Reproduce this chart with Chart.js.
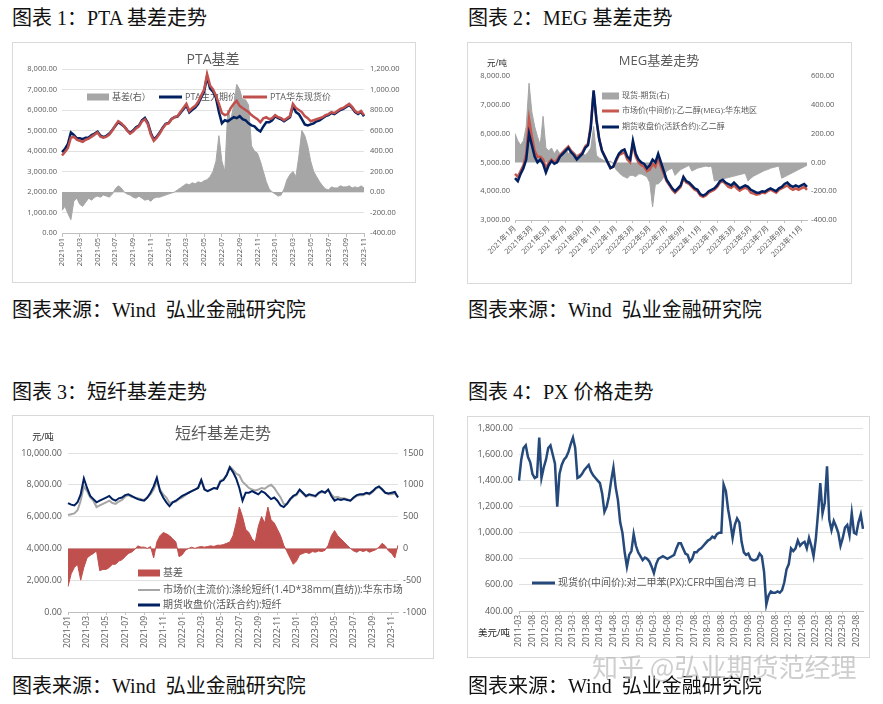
<!DOCTYPE html>
<html>
<head>
<meta charset="utf-8">
<script src="https://cdn.jsdelivr.net/npm/chart.js@4.4.1/dist/chart.umd.min.js"></script>
<style>
  html, body { margin: 0; padding: 0; background: #fff; }
  body { width: 883px; height: 704px; position: relative; overflow: hidden;
         font-family: "Liberation Serif", "Noto Sans CJK SC", serif; }
  .head { position: absolute; font-size: 20px; line-height: 22px; color: #111; white-space: nowrap; }
  .box { position: absolute; border: 1px solid #d9d9d9; box-sizing: border-box; background: #fff; }
  .box canvas { position: absolute; left: 0; top: 0; }
  .mark { position: absolute; font-family: "Noto Sans CJK SC", sans-serif; font-size: 26px; line-height: 30px;
          color: rgba(185, 185, 185, 0.7); white-space: nowrap; }
</style>
</head>
<body>
<div class="head" style="left:12px;top:7px">图表 1：PTA 基差走势</div>
<div class="head" style="left:468px;top:7px">图表 2：MEG 基差走势</div>
<div class="box" style="left:12px;top:42px;width:404px;height:241px"><canvas id="c1" width="402" height="239"></canvas></div>
<div class="box" style="left:467px;top:42px;width:385px;height:242px"><canvas id="c2" width="383" height="240"></canvas></div>
<div class="head" style="left:12px;top:299px">图表来源：Wind&nbsp; 弘业金融研究院</div>
<div class="head" style="left:468px;top:299px">图表来源：Wind&nbsp; 弘业金融研究院</div>

<div class="head" style="left:12px;top:381px">图表 3：短纤基差走势</div>
<div class="head" style="left:468px;top:381px">图表 4：PX 价格走势</div>
<div class="box" style="left:12px;top:415px;width:422px;height:244px"><canvas id="c3" width="420" height="242"></canvas></div>
<div class="box" style="left:467px;top:416px;width:403px;height:242px"><canvas id="c4" width="401" height="240"></canvas></div>
<div class="head" style="left:12px;top:675px">图表来源：Wind&nbsp; 弘业金融研究院</div>
<div class="head" style="left:468px;top:675px">图表来源：Wind&nbsp; 弘业金融研究院</div>
<div class="mark" style="left:592px;top:651px">知乎 @弘业期货范经理</div>

<script>
// ---- categories / ticks ----
const months = ['2021-01','2021-02','2021-03','2021-04','2021-05','2021-06','2021-07','2021-08','2021-09','2021-10','2021-11','2021-12',
  '2022-01','2022-02','2022-03','2022-04','2022-05','2022-06','2022-07','2022-08','2022-09','2022-10','2022-11','2022-12',
  '2023-01','2023-02','2023-03','2023-04','2023-05','2023-06','2023-07','2023-08','2023-09','2023-10','2023-11'];
const oddMonthTicks = ['2021-01','2021-03','2021-05','2021-07','2021-09','2021-11','2022-01','2022-03','2022-05',
  '2022-07','2022-09','2022-11','2023-01','2023-03','2023-05','2023-07','2023-09','2023-11'];
const megTickNames = ['2021年1月','2021年3月','2021年5月','2021年7月','2021年9月','2021年11月','2022年1月','2022年3月','2022年5月',
  '2022年7月','2022年9月','2022年11月','2023年1月','2023年3月','2023年5月','2023年7月','2023年9月','2023年11月'];
const pxTicks = ['2011-03','2011-08','2012-03','2012-08','2013-03','2013-08','2014-03','2014-08','2015-03','2015-08',
  '2016-03','2016-08','2017-03','2017-08','2018-03','2018-08','2019-03','2019-08','2020-03','2020-08',
  '2021-03','2021-08','2022-03','2022-08','2023-03','2023-08'];
const perMonth = 3;   // points per month in charts 1-3
const perPxTick = 6;  // points between PX tick labels

// ---- chart 1: PTA ----
const ptaSpot = [3780,3950,4150, 4650,4700,4550, 4500,4450,4550, 4600,4700,4800, 4900,4700,4650, 4700,4800,5000,
  5250,5450,5350, 5200,5000,4850, 4950,5100,5200, 5450,5550,5300, 4800,4500,4650, 4850,5100,5300,
  5350,5550,5650, 5700,5900,6100, 6300,5950,6100, 6200,6400,6700, 7000,7750,7200, 7000,6700,6300,
  5850,5750,5800, 6100,6300,6450, 6200,6100,6000, 5900,5750,5650, 5550,5400,5600, 5650,5550,5600,
  5750,5650,5600, 5500,5600,5700, 6300,6100,6000, 5900,5700,5600, 5450,5500,5550, 5600,5650,5750,
  5800,5900,5850, 5950,6050,6100, 6200,6300,6150, 5950,5850,5950, 5750];
const ptaFutures = [3950,4100,4350, 4900,4780,4620, 4620,4580,4650, 4660,4780,4850, 4940,4750,4680, 4740,4850,5020,
  5220,5400,5310, 5200,5020,4880, 5000,5160,5240, 5500,5620,5370, 4880,4560,4700, 4900,5140,5330,
  5370,5560,5650, 5680,5860,6040, 6220,5880,6010, 6120,6300,6610, 6890,7620,7050, 6900,6600,5900,
  5350,5500,5450, 5550,5650,5600, 5700,5550,5500, 5350,5250,5200, 5050,4950,5200, 5400,5400,5500,
  5700,5600,5550, 5450,5550,5650, 6200,5900,5800, 5550,5300,5250, 5300,5350,5450, 5500,5600,5700,
  5750,5850,5800, 5900,6000,6050, 6150,6250,6100, 5900,5800,5900, 5700];
const ptaBasis = [-180,-140,-210, -270,-90,-60, -120,-140,-100, -60,-80,-50, -40,-50,-30, -40,-50,-20,
  30,60,40, 0,-20,-30, -50,-60,-40, -60,-80,-70, -90,-60,-50, -50,-40,-30,
  -20,-10,0, 20,40,60, 80,70,90, 80,100,90, 110,120,150, 200,300,550,
  300,200,800, 700,850,1050, 1000,900,900, 850,450,400, 380,300,200, 100,30,0,
  -20,-40,-30, 30,120,170, 200,150,350, 600,550,450, 300,200,150, 100,60,30,
  20,50,40, 40,60,50, 50,60,40, 50,40,60, 40];

// ---- chart 2: MEG ----
const megSpot = [4600,4500,4700, 4900,5300,6500, 5900,5400,5200, 5200,5100,4800, 5000,5100,5000, 5100,5250,5350,
  5450,5550,5400, 5300,5150,5250, 5350,5550,5650, 6300,7450,6450, 5800,5400,5200, 5000,4800,4850,
  5050,5250,5300, 5350,5100,5000, 5650,5200,5000, 4900,4850,4700, 4750,4950,4850, 5150,4850,4600,
  4350,4200,4050, 3950,4050,4150, 4450,4300,4250, 4150,4050,4000, 3850,3800,3850, 3950,4000,4050,
  4150,4300,4350, 4250,4150,4120, 4200,4100,4020, 4080,4120,4080, 3950,3920,3880, 3900,3950,3930,
  4000,4050,4000, 3950,4050,4100, 4150,4200,4100, 4050,4100,4050, 4100,4150,4050];
const megFutures = [4450,4350,4600, 4800,5100,6000, 5600,5200,5000, 5100,4950,4650, 4900,5050,4950, 5000,5200,5300,
  5400,5500,5350, 5250,5100,5200, 5300,5500,5600, 6200,7500,6500, 5800,5400,5200, 5000,4800,4850,
  5100,5300,5400, 5450,5200,5100, 5750,5300,5100, 5000,4950,4800, 4900,5100,5000, 5300,5000,4700,
  4400,4250,4100, 4000,4100,4200, 4500,4350,4300, 4200,4100,4050, 3900,3850,3900, 4000,4050,4100,
  4200,4350,4400, 4300,4250,4200, 4300,4200,4100, 4150,4200,4150, 4050,4000,3950, 3950,4000,3980,
  4050,4100,4050, 4000,4100,4150, 4250,4300,4200, 4150,4200,4150, 4200,4250,4150];
const megBasis = [200,150,120, 150,250,550, 350,250,180, 120,320,100, 80,100,60, 90,60,80,
  100,60,80, 70,50,60, 60,50,70, 100,250,50, 30,20,10, 0,10,-10,
  -50,-70,-90, -100,-110,-90, -90,-100,-80, -80,-90,-100, -140,-310,-150, -150,-130,-100,
  -60,-50,-40, -90,-70,-50, -40,-30,-20, -60,-50,-40, -35,-30,-25, -30,-25,-130,
  -125,-120,-115, -110,-105,-100, -95,-90,-85, -80,-75,-130, -110,-95,-85, -75,-65,-55,
  -50,-40,-35, -30,-25,-110, -100,-90,-80, -70,-60,-50, -40,-30,-20];

// ---- chart 3: 短纤 ----
const sfSpot = [6100,6150,6200, 6400,7000,7900, 7600,7200,7000, 6600,6700,6800, 6900,7000,6850, 6800,6950,7050,
  7250,7350,7250, 7200,7150,7100, 7050,7200,7400, 7700,8200,7700, 7400,7200,6850, 6900,6950,7100,
  7200,7350,7500, 7600,7700,7800, 8300,7750,7600, 7700,7800,7800, 8250,8350,8650, 9150,8950,8700,
  8600,8200,8000, 7800,7700,7650, 7700,7800,7750, 7900,8000,7800, 7500,7200,6800, 6800,7050,7250,
  7350,7650,7450, 7250,7350,7300, 7250,7450,7550, 7500,7700,7400, 7200,7250,7150, 7150,7100,7000,
  7150,7300,7350, 7350,7450,7400, 7550,7750,7850, 7750,7500,7400, 7400,7450,7250];
const sfFutures = [6850,6750,6700, 6900,7400,8400, 7800,7300,7100, 6900,7000,7100, 7200,7300,7100, 7000,7150,7200,
  7350,7400,7300, 7200,7100,7050, 7000,7200,7500, 7900,8450,7600, 7200,6900,6650, 6900,7000,7150,
  7300,7400,7500, 7600,7700,7800, 8300,7700,7600, 7700,7800,7750, 8200,8300,8600, 9100,8800,8400,
  7800,7000,7500, 7500,7600,7500, 7400,7600,7500, 7300,7100,7200, 7000,6700,6600, 6800,7100,7300,
  7400,7700,7500, 7300,7400,7350, 7300,7500,7600, 7500,7700,7300, 7000,7100,7050, 7100,7050,7000,
  7200,7350,7400, 7400,7500,7450, 7600,7800,7900, 7700,7500,7450, 7500,7550,7200];
const sfBasis = [-600,-400,-300, -250,-500,-300, -150,-110,-80, -40,-350,-330, -330,-300,-250, -250,-200,-180,
  -130,-80,-60, -20,40,20, 20,0,30, -150,100,200, 250,230,200, 150,100,-130,
  -100,-30,0, 20,0,20, 30,20,30, 40,30,50, 50,60,80, 100,200,400,
  650,500,300, 250,150,100, 350,500,400, 650,450,400, 300,200,50, -50,-150,-250,
  -200,-100,-80, -60,-80,-50, -60,-40,-50, -30,50,200, 280,200,150, 100,50,0,
  -40,-60,-30, -50,-30,-60, -40,-20,20, 80,40,-40, -80,-150,50];

// ---- chart 4: PX ----
const pxPrice = [1400,1560,1650,1670,1580,1540, 1450,1420,1430,1730,1420,1500, 1560,1650,1670,1600,1530,1200,
  1450,1520,1560,1580,1620,1680, 1730,1650,1420,1430,1450,1480, 1500,1520,1470,1440,1420,1400,
  1380,1300,1160,1200,1280,1400, 1500,1350,1250,1080,1000,850, 740,830,860,990,900,850,
  820,790,810,800,780,740, 690,760,800,810,820,810, 800,810,820,830,880,920,
  920,880,840,830,780,800, 850,850,870,880,900,920, 940,950,970,960,990,1000,
  1000,1370,1320,1180,1080,960, 1060,1110,1080,930,850,830, 840,800,790,790,800,840,
  820,700,450,520,550,540, 540,550,540,560,620,720, 760,880,860,880,940,900,
  920,930,880,960,900,820, 950,1150,1380,1150,1230,1510, 1100,1020,1090,1050,1000,900,
  960,1040,1060,980,1150,1000, 990,1080,1140,1030];

// ---- helpers ----
Chart.defaults.font.family = '"Open Sans", "Noto Sans CJK SC", sans-serif';
Chart.defaults.animation = false;
const TXT = '#595959';
const RED = '#c0504d', NAVY = '#002060', GREY = '#a6a6a6';

const fmt2 = v => v.toLocaleString('en-US', { minimumFractionDigits: 2, maximumFractionDigits: 2 });

function pointLabels(names, per, count) {
  const out = [];
  for (let i = 0; i < count; i++) out.push(i % per === 0 ? names[i / per] : '');
  return out;
}

function yAxis(pos, min, max, step, fmt, size, width, pad, grid) {
  return {
    position: pos, min: min, max: max,
    ticks: { stepSize: step, callback: fmt, padding: pad, color: TXT, font: { size: size } },
    grid: grid ? { color: '#d9d9d9', lineWidth: 0.8, drawTicks: false } : { display: false, drawTicks: false },
    border: { display: false },
    afterFit: s => { s.width = width; }
  };
}

function xAxis(tickList, names, rot, size, height, tickLen) {
  return {
    ticks: {
      autoSkip: false, minRotation: rot, maxRotation: rot, padding: 1, color: TXT, font: { size: size },
      callback: function(v) {
        const k = tickList.indexOf(this.getLabelForValue(v));
        return k < 0 ? null : names[k];
      }
    },
    grid: { drawOnChartArea: false, tickLength: tickLen, color: '#bfbfbf' },
    border: { color: '#bfbfbf' },
    afterFit: s => { s.height = height; }
  };
}

function lineDs(label, data, color, width, axis, order) {
  return { label: label, data: data, yAxisID: axis, borderColor: color, borderWidth: width,
           pointRadius: 0, tension: 0, fill: false, order: order };
}
function areaDs(label, data, color, axis, order) {
  return { label: label, data: data, yAxisID: axis, borderColor: color, borderWidth: 1, backgroundColor: color,
           pointRadius: 0, tension: 0, fill: 'origin', order: order };
}

// titles, unit labels and in-plot legends
function decor(cfg) {
  return {
    id: 'decor',
    beforeDatasetsDraw(chart) {
      const ctx = chart.ctx;
      (cfg.legend || []).forEach(it => {
        ctx.save();
        if (it.kind === 'box') {
          ctx.fillStyle = it.color;
          ctx.fillRect(it.x, it.y - it.h / 2, it.w, it.h);
        } else {
          ctx.strokeStyle = it.color;
          ctx.lineWidth = it.h;
          ctx.beginPath();
          ctx.moveTo(it.x, it.y);
          ctx.lineTo(it.x + it.w, it.y);
          ctx.stroke();
        }
        ctx.fillStyle = TXT;
        ctx.font = cfg.legendFont;
        ctx.textAlign = 'left';
        ctx.textBaseline = 'middle';
        ctx.fillText(it.text, it.x + it.w + 3, it.y);
        ctx.restore();
      });
    },
    afterDraw(chart) {
      const ctx = chart.ctx;
      (cfg.texts || []).forEach(t => {
        ctx.save();
        ctx.fillStyle = t.color || TXT;
        ctx.font = t.font;
        ctx.textAlign = 'center';
        ctx.textBaseline = 'middle';
        ctx.fillText(t.text, t.x, t.y);
        ctx.restore();
      });
    }
  };
}

function baseOptions(top, right, scales) {
  return {
    responsive: false,
    animation: false,
    events: [],
    layout: { padding: { top: top, left: 0, right: right, bottom: 0 } },
    plugins: { legend: { display: false }, tooltip: { enabled: false }, title: { display: false } },
    scales: scales
  };
}

const FONT = '"Open Sans", "Noto Sans CJK SC", sans-serif';

// ---- chart 1 ----
new Chart(document.getElementById('c1'), {
  type: 'line',
  data: {
    labels: pointLabels(months, perMonth, ptaSpot.length),
    datasets: [
      areaDs('基差(右）', ptaBasis, GREY, 'y2', 2),
      lineDs('PTA主力期价', ptaFutures, NAVY, 2.5, 'y', 1),
      lineDs('PTA华东现货价', ptaSpot, RED, 2.5, 'y', 0)
    ]
  },
  options: baseOptions(26, 0, {
    x: xAxis(oddMonthTicks, oddMonthTicks, 90, 7.5, 49, 4),
    y: yAxis('left', 0, 8000, 1000, fmt2, 7.5, 49, 5, true),
    y2: yAxis('right', -400, 1200, 200, fmt2, 7.5, 51, 6, false)
  }),
  plugins: [decor({
    legendFont: '9px ' + FONT,
    texts: [{ text: 'PTA基差', x: 200, y: 17, font: '14px ' + FONT }],
    legend: [
      { kind: 'box', color: GREY, x: 74, y: 54, w: 22, h: 7, text: '基差(右）' },
      { kind: 'line', color: NAVY, x: 146, y: 54, w: 23, h: 3, text: 'PTA主力期价' },
      { kind: 'line', color: RED, x: 230, y: 54, w: 24, h: 3, text: 'PTA华东现货价' }
    ]
  })]
});

// ---- chart 2 ----
new Chart(document.getElementById('c2'), {
  type: 'line',
  data: {
    labels: pointLabels(months, perMonth, megSpot.length),
    datasets: [
      areaDs('现货-期货(右)', megBasis, GREY, 'y2', 2),
      lineDs('市场价(中间价):乙二醇(MEG):华东地区', megSpot, '#c8584d', 2.5, 'y', 1),
      lineDs('期货收盘价(活跃合约):乙二醇', megFutures, NAVY, 2.5, 'y', 0)
    ]
  },
  options: baseOptions(33, 0, {
    x: xAxis(oddMonthTicks, megTickNames, 45, 7.5, 63, 3),
    y: yAxis('left', 3000, 8000, 1000, fmt2, 7.5, 47, 5, false),
    y2: yAxis('right', -400, 600, 200, fmt2, 7.5, 44, 4, false)
  }),
  plugins: [decor({
    legendFont: '8px ' + FONT,
    texts: [
      { text: 'MEG基差走势', x: 191, y: 18, font: '13px ' + FONT },
      { text: '元/吨', x: 29, y: 21, font: '8.5px ' + FONT, color: '#262626' }
    ],
    legend: [
      { kind: 'box', color: GREY, x: 134, y: 53, w: 17, h: 7, text: '现货-期货(右)' },
      { kind: 'line', color: '#c8584d', x: 134, y: 68, w: 17, h: 3, text: '市场价(中间价):乙二醇(MEG):华东地区' },
      { kind: 'line', color: NAVY, x: 134, y: 84, w: 17, h: 3, text: '期货收盘价(活跃合约):乙二醇' }
    ]
  })]
});

// ---- chart 3 ----
new Chart(document.getElementById('c3'), {
  type: 'line',
  data: {
    labels: pointLabels(months, perMonth, sfSpot.length),
    datasets: [
      areaDs('基差', sfBasis, RED, 'y2', 2),
      lineDs('市场价(主流价):涤纶短纤(1.4D*38mm(直纺)):华东市场', sfSpot, GREY, 2, 'y', 1),
      lineDs('期货收盘价(活跃合约):短纤', sfFutures, NAVY, 2, 'y', 0)
    ]
  },
  options: baseOptions(37, 0, {
    x: xAxis(oddMonthTicks, oddMonthTicks, 90, 8.5, 46, 3),
    y: yAxis('left', 0, 10000, 2000, fmt2, 9, 55, 6, true),
    y2: yAxis('right', -1000, 1500, 500, v => String(v), 9, 35, 5, false)
  }),
  plugins: [decor({
    legendFont: '10px ' + FONT,
    texts: [
      { text: '短纤基差走势', x: 210, y: 18, font: '16px ' + FONT },
      { text: '元/吨', x: 30, y: 21, font: '9px ' + FONT, color: '#262626' }
    ],
    legend: [
      { kind: 'box', color: RED, x: 125, y: 157, w: 22, h: 7, text: '基差' },
      { kind: 'line', color: GREY, x: 125, y: 174, w: 22, h: 2, text: '市场价(主流价):涤纶短纤(1.4D*38mm(直纺)):华东市场' },
      { kind: 'line', color: NAVY, x: 125, y: 189, w: 22, h: 3, text: '期货收盘价(活跃合约):短纤' }
    ]
  })]
});

// ---- chart 4 ----
new Chart(document.getElementById('c4'), {
  type: 'line',
  data: {
    labels: pointLabels(pxTicks, perPxTick, pxPrice.length),
    datasets: [
      lineDs('现货价(中间价):对二甲苯(PX):CFR中国台湾 日', pxPrice, '#24497a', 2.5, 'y', 0)
    ]
  },
  options: baseOptions(10, 6, {
    x: xAxis(pxTicks, pxTicks, 90, 8.5, 46, 3),
    y: yAxis('left', 400, 1800, 200, fmt2, 9, 51, 6, true)
  }),
  plugins: [decor({
    legendFont: '10px ' + FONT,
    texts: [{ text: '美元/吨', x: 26, y: 216, font: '9.5px ' + FONT, color: '#262626' }],
    legend: [
      { kind: 'line', color: '#24497a', x: 64, y: 166, w: 23, h: 3, text: '现货价(中间价):对二甲苯(PX):CFR中国台湾 日' }
    ]
  })]
});
</script>
</body>
</html>
